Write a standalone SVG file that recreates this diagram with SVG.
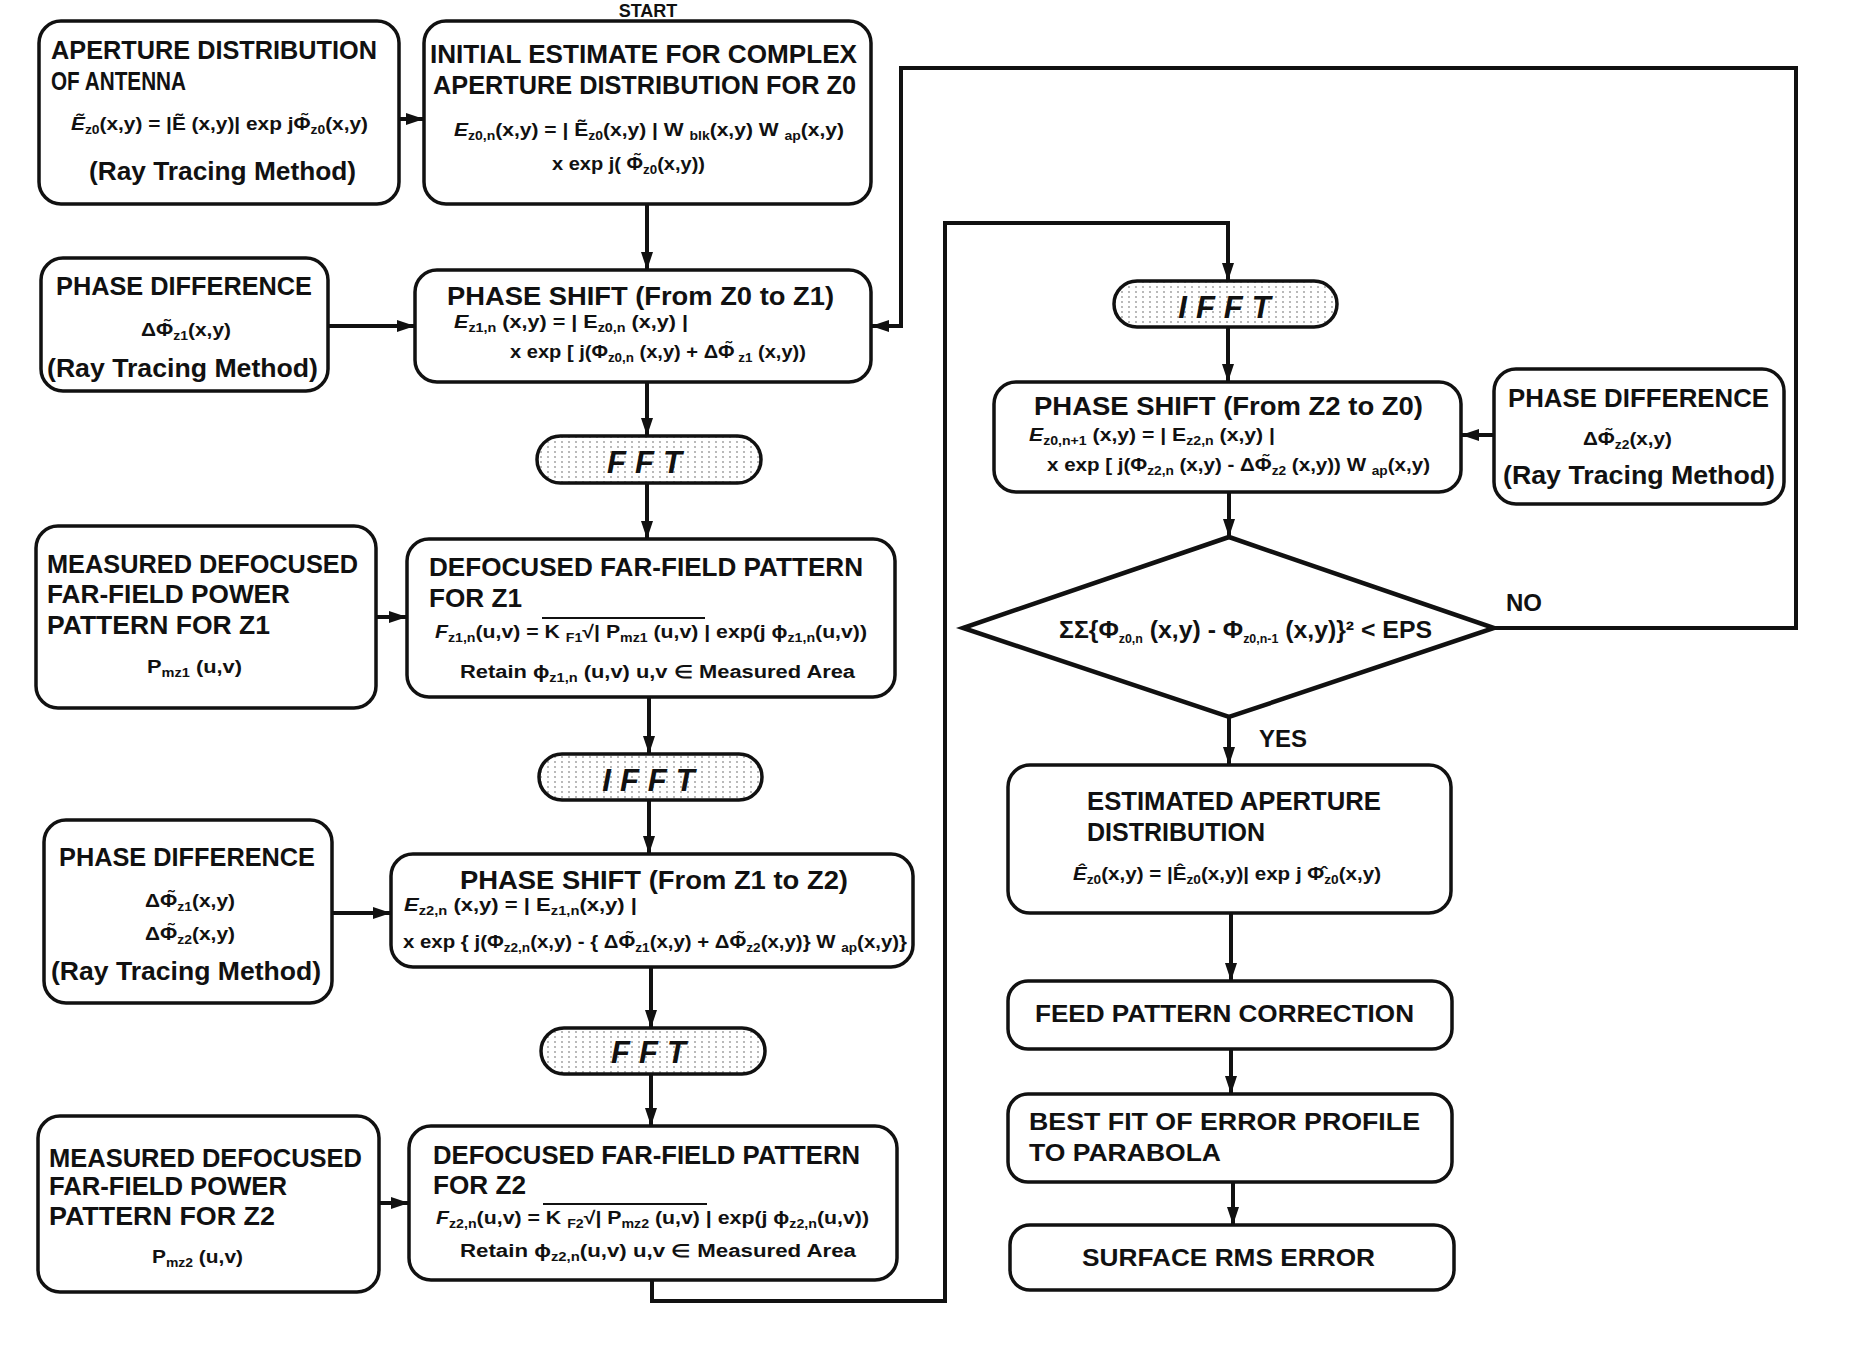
<svg xmlns="http://www.w3.org/2000/svg" width="1859" height="1370" viewBox="0 0 1859 1370">
<style>
.box{fill:#fff;stroke:#111;stroke-width:3.5}
.pill{fill:url(#dots);stroke:#111;stroke-width:3.5}
.t{font-family:"Liberation Sans Narrow","Liberation Sans",sans-serif;font-weight:bold;font-size:25px;fill:#111}
.w{font-family:"Liberation Sans",sans-serif;font-weight:bold;font-size:24px;fill:#111}
.f{font-family:"Liberation Sans Narrow","Liberation Sans",sans-serif;font-weight:bold;font-size:18px;fill:#111}
.s{font-size:12px}
.p{font-family:"Liberation Sans",sans-serif;font-weight:bold;font-style:italic;font-size:31px;fill:#111}
.c{fill:none;stroke:#111;stroke-width:4}
.ov{stroke:#111;stroke-width:1.8}
</style>
<defs>
<pattern id="dots" width="7" height="5" patternUnits="userSpaceOnUse">
<rect width="7" height="5" fill="#fff"/>
<circle cx="2" cy="2" r="0.9" fill="#999"/>
</pattern>
<marker id="ah" viewBox="0 0 18 12" refX="18" refY="6" markerWidth="18" markerHeight="12" markerUnits="userSpaceOnUse" orient="auto">
<path d="M0,0 L18,6 L0,12 z" fill="#111"/>
</marker>
</defs>

<text class="w" x="648" y="17" text-anchor="middle" style="font-size:18px">START</text>

<g id="connectors">
<path class="c" d="M399,119 H424" marker-end="url(#ah)"/>
<path class="c" d="M647,204 V270" marker-end="url(#ah)"/>
<path class="c" d="M328,326 H415" marker-end="url(#ah)"/>
<path class="c" d="M1494,628 H1796 V68 H901 V326 H871" marker-end="url(#ah)"/>
<path class="c" d="M647,382 V436" marker-end="url(#ah)"/>
<path class="c" d="M647,483 V539" marker-end="url(#ah)"/>
<path class="c" d="M376,617 H407" marker-end="url(#ah)"/>
<path class="c" d="M649,697 V754" marker-end="url(#ah)"/>
<path class="c" d="M649,800 V854" marker-end="url(#ah)"/>
<path class="c" d="M332,913 H391" marker-end="url(#ah)"/>
<path class="c" d="M651,967 V1028" marker-end="url(#ah)"/>
<path class="c" d="M651,1074 V1126" marker-end="url(#ah)"/>
<path class="c" d="M379,1203 H409" marker-end="url(#ah)"/>
<path class="c" d="M652,1280 V1301 H945 V223 H1228 V281" marker-end="url(#ah)"/>
<path class="c" d="M1228,327 V382" marker-end="url(#ah)"/>
<path class="c" d="M1494,435 H1461" marker-end="url(#ah)"/>
<path class="c" d="M1229,492 V537" marker-end="url(#ah)"/>
<path class="c" d="M1229,717 V765" marker-end="url(#ah)"/>
<path class="c" d="M1231,913 V981" marker-end="url(#ah)"/>
<path class="c" d="M1231,1049 V1094" marker-end="url(#ah)"/>
<path class="c" d="M1233,1182 V1225" marker-end="url(#ah)"/>
</g>

<g id="aperture-distribution">
<rect class="box" x="39" y="21" width="360" height="183" rx="22"/>
<text class="t" x="51" y="59" textLength="326" lengthAdjust="spacingAndGlyphs">APERTURE DISTRIBUTION</text>
<text class="t" x="51" y="90" textLength="135" lengthAdjust="spacingAndGlyphs">OF ANTENNA</text>
<text class="f" x="71" y="130" textLength="297" lengthAdjust="spacingAndGlyphs"><tspan font-style="italic">Ẽ</tspan><tspan class="s" dy="4">z0</tspan><tspan dy="-4">(x,y) = |Ẽ (x,y)| exp jΦ̃</tspan><tspan class="s" dy="4">z0</tspan><tspan dy="-4">(x,y)</tspan></text>
<text class="t" x="89" y="180" textLength="267" lengthAdjust="spacingAndGlyphs">(Ray Tracing Method)</text>
</g>

<g id="initial-estimate">
<rect class="box" x="424" y="21" width="447" height="183" rx="22"/>
<text class="t" x="430" y="63" textLength="427" lengthAdjust="spacingAndGlyphs">INITIAL ESTIMATE FOR COMPLEX</text>
<text class="t" x="433" y="94" textLength="423" lengthAdjust="spacingAndGlyphs">APERTURE DISTRIBUTION FOR Z0</text>
<text class="f" x="454" y="136" textLength="390" lengthAdjust="spacingAndGlyphs"><tspan font-style="italic">E</tspan><tspan class="s" dy="4">z0,n</tspan><tspan dy="-4">(x,y) = | Ẽ</tspan><tspan class="s" dy="4">z0</tspan><tspan dy="-4">(x,y) | W </tspan><tspan class="s" dy="4">blk</tspan><tspan dy="-4">(x,y) W </tspan><tspan class="s" dy="4">ap</tspan><tspan dy="-4">(x,y)</tspan></text>
<text class="f" x="552" y="170" textLength="153" lengthAdjust="spacingAndGlyphs">x exp j( Φ̃<tspan class="s" dy="4">z0</tspan><tspan dy="-4">(x,y))</tspan></text>
</g>

<g id="phase-difference-1">
<rect class="box" x="41" y="258" width="287" height="133" rx="22"/>
<text class="t" x="56" y="295" textLength="256" lengthAdjust="spacingAndGlyphs">PHASE DIFFERENCE</text>
<text class="f" x="141" y="336" textLength="90" lengthAdjust="spacingAndGlyphs">ΔΦ̃<tspan class="s" dy="4">z1</tspan><tspan dy="-4">(x,y)</tspan></text>
<text class="t" x="47" y="377" textLength="271" lengthAdjust="spacingAndGlyphs">(Ray Tracing Method)</text>
</g>

<g id="phase-shift-z0-z1">
<rect class="box" x="415" y="270" width="456" height="112" rx="22"/>
<text class="t" x="447" y="305" textLength="387" lengthAdjust="spacingAndGlyphs">PHASE SHIFT (From Z0 to Z1)</text>
<text class="f" x="454" y="328" textLength="234" lengthAdjust="spacingAndGlyphs"><tspan font-style="italic">E</tspan><tspan class="s" dy="4">z1,n</tspan><tspan dy="-4"> (x,y) = | E</tspan><tspan class="s" dy="4">z0,n</tspan><tspan dy="-4"> (x,y) |</tspan></text>
<text class="f" x="510" y="358" textLength="296" lengthAdjust="spacingAndGlyphs">x exp [ j(Φ<tspan class="s" dy="4">z0,n</tspan><tspan dy="-4"> (x,y) + ΔΦ̃</tspan><tspan class="s" dy="4"> z1</tspan><tspan dy="-4"> (x,y))</tspan></text>
</g>

<g id="fft-1">
<rect class="pill" x="537" y="436" width="224" height="47" rx="23.5"/>
<text class="p" x="649" y="473" text-anchor="middle" letter-spacing="9">FFT</text>
</g>

<g id="measured-z1">
<rect class="box" x="36" y="526" width="340" height="182" rx="22"/>
<text class="t" x="47" y="573" textLength="311" lengthAdjust="spacingAndGlyphs">MEASURED DEFOCUSED</text>
<text class="t" x="47" y="603" textLength="243" lengthAdjust="spacingAndGlyphs">FAR-FIELD POWER</text>
<text class="t" x="47" y="634" textLength="223" lengthAdjust="spacingAndGlyphs">PATTERN FOR Z1</text>
<text class="f" x="147" y="673" textLength="95" lengthAdjust="spacingAndGlyphs">P<tspan class="s" dy="4">mz1</tspan><tspan dy="-4"> (u,v)</tspan></text>
</g>

<g id="far-field-z1">
<rect class="box" x="407" y="539" width="488" height="158" rx="22"/>
<text class="t" x="429" y="576" textLength="434" lengthAdjust="spacingAndGlyphs">DEFOCUSED FAR-FIELD PATTERN</text>
<text class="t" x="429" y="607" textLength="93" lengthAdjust="spacingAndGlyphs">FOR Z1</text>
<text class="f" x="435" y="638" textLength="432" lengthAdjust="spacingAndGlyphs"><tspan font-style="italic">F</tspan><tspan class="s" dy="4">z1,n</tspan><tspan dy="-4">(u,v) = K </tspan><tspan class="s" dy="4">F1</tspan><tspan dy="-4">√| P</tspan><tspan class="s" dy="4">mz1</tspan><tspan dy="-4"> (u,v) | exp(j ϕ</tspan><tspan class="s" dy="4">z1,n</tspan><tspan dy="-4">(u,v))</tspan></text>
<line class="ov" x1="542" y1="618" x2="705" y2="618"/>
<text class="f" x="460" y="678" textLength="395" lengthAdjust="spacingAndGlyphs">Retain ϕ<tspan class="s" dy="4">z1,n</tspan><tspan dy="-4"> (u,v)    u,v ∈ Measured Area</tspan></text>
</g>

<g id="ifft-1">
<rect class="pill" x="539" y="754" width="223" height="46" rx="23"/>
<text class="p" x="653" y="791" text-anchor="middle" letter-spacing="9">IFFT</text>
</g>

<g id="phase-difference-2">
<rect class="box" x="44" y="820" width="288" height="183" rx="22"/>
<text class="t" x="59" y="866" textLength="256" lengthAdjust="spacingAndGlyphs">PHASE DIFFERENCE</text>
<text class="f" x="145" y="907" textLength="90" lengthAdjust="spacingAndGlyphs">ΔΦ̃<tspan class="s" dy="4">z1</tspan><tspan dy="-4">(x,y)</tspan></text>
<text class="f" x="145" y="940" textLength="90" lengthAdjust="spacingAndGlyphs">ΔΦ̃<tspan class="s" dy="4">z2</tspan><tspan dy="-4">(x,y)</tspan></text>
<text class="t" x="51" y="980" textLength="270" lengthAdjust="spacingAndGlyphs">(Ray Tracing Method)</text>
</g>

<g id="phase-shift-z1-z2">
<rect class="box" x="391" y="854" width="522" height="113" rx="22"/>
<text class="t" x="460" y="889" textLength="388" lengthAdjust="spacingAndGlyphs">PHASE SHIFT (From Z1 to Z2)</text>
<text class="f" x="404" y="911" textLength="233" lengthAdjust="spacingAndGlyphs"><tspan font-style="italic">E</tspan><tspan class="s" dy="4">z2,n</tspan><tspan dy="-4"> (x,y) = | E</tspan><tspan class="s" dy="4">z1,n</tspan><tspan dy="-4">(x,y) |</tspan></text>
<text class="f" x="403" y="948" textLength="504" lengthAdjust="spacingAndGlyphs">x exp { j(Φ<tspan class="s" dy="4">z2,n</tspan><tspan dy="-4">(x,y) - { ΔΦ̃</tspan><tspan class="s" dy="4">z1</tspan><tspan dy="-4">(x,y) + ΔΦ̃</tspan><tspan class="s" dy="4">z2</tspan><tspan dy="-4">(x,y)} W </tspan><tspan class="s" dy="4">ap</tspan><tspan dy="-4">(x,y)}</tspan></text>
</g>

<g id="fft-2">
<rect class="pill" x="541" y="1028" width="224" height="46" rx="23"/>
<text class="p" x="653" y="1063" text-anchor="middle" letter-spacing="9">FFT</text>
</g>

<g id="measured-z2">
<rect class="box" x="38" y="1116" width="341" height="176" rx="22"/>
<text class="t" x="49" y="1167" textLength="313" lengthAdjust="spacingAndGlyphs">MEASURED DEFOCUSED</text>
<text class="t" x="49" y="1195" textLength="238" lengthAdjust="spacingAndGlyphs">FAR-FIELD POWER</text>
<text class="t" x="49" y="1225" textLength="226" lengthAdjust="spacingAndGlyphs">PATTERN FOR Z2</text>
<text class="f" x="152" y="1263" textLength="91" lengthAdjust="spacingAndGlyphs">P<tspan class="s" dy="4">mz2</tspan><tspan dy="-4"> (u,v)</tspan></text>
</g>

<g id="far-field-z2">
<rect class="box" x="409" y="1126" width="488" height="154" rx="22"/>
<text class="t" x="433" y="1164" textLength="427" lengthAdjust="spacingAndGlyphs">DEFOCUSED FAR-FIELD PATTERN</text>
<text class="t" x="433" y="1194" textLength="93" lengthAdjust="spacingAndGlyphs">FOR Z2</text>
<text class="f" x="436" y="1224" textLength="433" lengthAdjust="spacingAndGlyphs"><tspan font-style="italic">F</tspan><tspan class="s" dy="4">z2,n</tspan><tspan dy="-4">(u,v) = K </tspan><tspan class="s" dy="4">F2</tspan><tspan dy="-4">√| P</tspan><tspan class="s" dy="4">mz2</tspan><tspan dy="-4"> (u,v) | exp(j ϕ</tspan><tspan class="s" dy="4">z2,n</tspan><tspan dy="-4">(u,v))</tspan></text>
<line class="ov" x1="543" y1="1204" x2="707" y2="1204"/>
<text class="f" x="460" y="1257" textLength="396" lengthAdjust="spacingAndGlyphs">Retain ϕ<tspan class="s" dy="4">z2,n</tspan><tspan dy="-4">(u,v)    u,v ∈ Measured Area</tspan></text>
</g>

<g id="ifft-2">
<rect class="pill" x="1114" y="281" width="223" height="46" rx="23"/>
<text class="p" x="1229" y="318" text-anchor="middle" letter-spacing="9">IFFT</text>
</g>

<g id="phase-shift-z2-z0">
<rect class="box" x="994" y="382" width="467" height="110" rx="22"/>
<text class="t" x="1034" y="415" textLength="389" lengthAdjust="spacingAndGlyphs">PHASE SHIFT (From Z2 to Z0)</text>
<text class="f" x="1029" y="441" textLength="246" lengthAdjust="spacingAndGlyphs"><tspan font-style="italic">E</tspan><tspan class="s" dy="4">z0,n+1</tspan><tspan dy="-4"> (x,y) = | E</tspan><tspan class="s" dy="4">z2,n</tspan><tspan dy="-4"> (x,y) |</tspan></text>
<text class="f" x="1047" y="471" textLength="383" lengthAdjust="spacingAndGlyphs">x exp [ j(Φ<tspan class="s" dy="4">z2,n</tspan><tspan dy="-4"> (x,y) - ΔΦ̃</tspan><tspan class="s" dy="4">z2</tspan><tspan dy="-4"> (x,y)) W </tspan><tspan class="s" dy="4">ap</tspan><tspan dy="-4">(x,y)</tspan></text>
</g>

<g id="phase-difference-3">
<rect class="box" x="1494" y="369" width="290" height="135" rx="22"/>
<text class="t" x="1508" y="407" textLength="261" lengthAdjust="spacingAndGlyphs">PHASE DIFFERENCE</text>
<text class="f" x="1583" y="445" textLength="89" lengthAdjust="spacingAndGlyphs">ΔΦ̃<tspan class="s" dy="4">z2</tspan><tspan dy="-4">(x,y)</tspan></text>
<text class="t" x="1503" y="484" textLength="272" lengthAdjust="spacingAndGlyphs">(Ray Tracing Method)</text>
</g>

<g id="convergence-test">
<polygon points="1229,537 1494,628 1229,717 963,628" fill="#fff" stroke="#111" stroke-width="4.5"/>
<text class="f" x="1059" y="638" style="font-size:24px" textLength="373" lengthAdjust="spacingAndGlyphs">ΣΣ{Φ<tspan class="s" dy="5">z0,n</tspan><tspan dy="-5"> (x,y) - Φ</tspan><tspan class="s" dy="5">z0,n-1</tspan><tspan dy="-5"> (x,y)}² &lt; EPS</tspan></text>
<text class="t" x="1506" y="611" style="font-size:24px">NO</text>
<text class="t" x="1259" y="747" style="font-size:24px">YES</text>
</g>

<g id="estimated-aperture">
<rect class="box" x="1008" y="765" width="443" height="148" rx="22"/>
<text class="t" x="1087" y="810" textLength="294" lengthAdjust="spacingAndGlyphs">ESTIMATED APERTURE</text>
<text class="t" x="1087" y="841" textLength="178" lengthAdjust="spacingAndGlyphs">DISTRIBUTION</text>
<text class="f" x="1073" y="880" textLength="308" lengthAdjust="spacingAndGlyphs"><tspan font-style="italic">Ê</tspan><tspan class="s" dy="4">z0</tspan><tspan dy="-4">(x,y) =  |Ê</tspan><tspan class="s" dy="4">z0</tspan><tspan dy="-4">(x,y)| exp j  Φ̂</tspan><tspan class="s" dy="4">z0</tspan><tspan dy="-4">(x,y)</tspan></text>
</g>

<g id="feed-pattern-correction">
<rect class="box" x="1008" y="981" width="444" height="68" rx="20"/>
<text class="w" x="1035" y="1022" textLength="379" lengthAdjust="spacingAndGlyphs">FEED PATTERN CORRECTION</text>
</g>

<g id="best-fit">
<rect class="box" x="1008" y="1094" width="444" height="88" rx="20"/>
<text class="w" x="1029" y="1130" textLength="391" lengthAdjust="spacingAndGlyphs">BEST FIT OF ERROR PROFILE</text>
<text class="w" x="1029" y="1161" textLength="192" lengthAdjust="spacingAndGlyphs">TO PARABOLA</text>
</g>

<g id="surface-rms-error">
<rect class="box" x="1010" y="1225" width="444" height="65" rx="20"/>
<text class="w" x="1082" y="1266" textLength="293" lengthAdjust="spacingAndGlyphs">SURFACE RMS ERROR</text>
</g>
</svg>
